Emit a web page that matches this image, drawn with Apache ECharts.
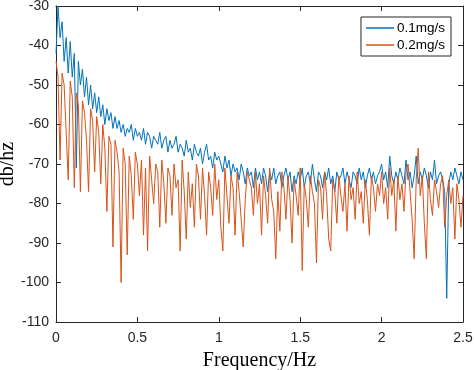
<!DOCTYPE html>
<html>
<head>
<meta charset="utf-8">
<script src="https://cdn.jsdelivr.net/npm/echarts@6/dist/echarts.min.js"></script>
<style>html,body{margin:0;padding:0;background:#fff;}#c{width:474px;height:370px;}</style>
</head>
<body>
<div id="c"></div>
<script>
const seriesNames = ['0.1mg/s', '0.2mg/s'];
const xTicks = [0, 0.5, 1, 1.5, 2, 2.5];
const yTicks = [-110, -100, -90, -80, -70, -60, -50, -40, -30];
const freqStep = 0.0125; // sample spacing of the spectrum, Hz

const blue = [
  -42, -30, -38, -34, -44, -38, -47, -39, -48, -42,
  -71, -44, -50, -46, -53, -48, -55, -50, -56, -52,
  -57, -53, -58, -55, -60, -56, -59, -57, -61, -58,
  -61, -59, -62, -60, -63, -61, -62, -60, -64, -61,
  -63, -62, -64, -61, -65, -62, -63, -66, -63, -64,
  -65, -62, -66, -64, -63, -67, -64, -66, -65, -63,
  -67, -65, -66, -68, -64, -67, -66, -69, -65, -67,
  -68, -66, -70, -67, -65, -69, -68, -71, -67, -69,
  -68, -70, -72, -68, -71, -69, -73, -70, -72, -71,
  -74, -70, -72, -75, -71, -73, -72, -76, -71, -74,
  -72, -75, -71, -73, -77, -72, -74, -71, -75, -73,
  -72, -76, -73, -71, -74, -72, -77, -73, -75, -72,
  -74, -71, -76, -73, -72, -75, -70, -74, -77, -72,
  -73, -76, -72, -74, -71, -75, -73, -77, -72, -74,
  -73, -71, -75, -72, -74, -76, -72, -73, -75, -71,
  -74, -72, -76, -73, -71, -74, -72, -75, -73, -72,
  -70, -74, -72, -76, -68, -73, -75, -72, -74, -71,
  -73, -75, -69, -74, -72, -76, -73, -68, -75, -72,
  -74, -71, -73, -76, -72, -74, -69, -75, -73, -72,
  -74, -77, -104, -75, -72, -74, -71, -73, -75, -72,
  -74
];

const orange = [
  -44, -48, -69, -47, -50, -62, -74, -49, -53, -76,
  -52, -55, -77, -54, -57, -64, -77, -56, -59, -72,
  -58, -62, -75, -60, -66, -82, -63, -65, -91, -64,
  -67, -72, -100, -66, -70, -93, -68, -73, -84, -67,
  -70, -78, -69, -88, -71, -92, -68, -74, -80, -70,
  -72, -86, -69, -75, -85, -71, -73, -83, -70, -76,
  -74, -92, -69, -77, -89, -72, -81, -75, -86, -70,
  -73, -84, -71, -78, -88, -72, -76, -83, -70, -79,
  -74, -86, -92, -71, -78, -85, -73, -76, -88, -72,
  -77, -84, -91, -79, -72, -74, -76, -83, -72, -80,
  -75, -88, -73, -78, -85, -71, -79, -82, -94, -77,
  -87, -72, -76, -84, -73, -79, -90, -74, -78, -83,
  -71, -97, -75, -79, -86, -73, -77, -80, -95, -74,
  -76, -84, -72, -78, -89, -92, -74, -77, -85, -73,
  -78, -82, -75, -87, -73, -79, -76, -84, -72, -80,
  -77, -85, -74, -79, -88, -73, -76, -82, -75, -78,
  -72, -80, -76, -84, -71, -78, -74, -87, -73, -79,
  -75, -82, -72, -70, -77, -84, -94, -74, -66, -78,
  -73, -85, -94, -72, -79, -83, -74, -77, -81, -75,
  -73, -86, -78, -74, -80, -76, -89, -75, -79, -86,
  -78
];

function pairs(vals) {
  return vals.map((v, i) => [+(i * freqStep).toFixed(4), v]);
}

const axisColor = '#262626';
const chart = echarts.init(document.getElementById('c'), null, {renderer: 'canvas'});
const tickCfg = {show: true, inside: true, length: 5, lineStyle: {color: axisColor, width: 1}};
const lineCfg = {show: true, onZero: false, lineStyle: {color: axisColor, width: 1}};

chart.setOption({
  animation: false,
  backgroundColor: '#fff',
  grid: {left: 56, right: 11, top: 6, bottom: 48, containLabel: false, outerBoundsMode: 'none'},
  legend: {
    data: seriesNames.map(n => ({name: n, icon: 'rect'})),
    orient: 'vertical',
    right: 23,
    top: 17,
    backgroundColor: '#fff',
    borderColor: axisColor,
    borderWidth: 1,
    borderRadius: 0,
    padding: [4, 6, 4, 5],
    itemGap: 3,
    itemWidth: 28,
    itemHeight: 1.5,
    textStyle: {fontFamily: 'Liberation Sans', fontSize: 13.5, color: '#000', padding: [0, 0, 0, -2], lineHeight: 14}
  },
  xAxis: [
    {
      type: 'value', min: xTicks[0], max: xTicks[xTicks.length - 1], interval: 0.5,
      axisLine: lineCfg, axisTick: tickCfg, splitLine: {show: false},
      axisLabel: {color: axisColor, fontFamily: 'Liberation Sans', fontSize: 14, margin: 9},
      name: 'Frequency/Hz', nameLocation: 'middle', nameGap: 29,
      nameTextStyle: {fontFamily: 'Liberation Serif', fontSize: 20, color: '#000'}
    },
    {
      type: 'value', position: 'top', min: xTicks[0], max: xTicks[xTicks.length - 1], interval: 0.5,
      axisLine: lineCfg, axisTick: tickCfg, splitLine: {show: false}, axisLabel: {show: false}
    }
  ],
  yAxis: [
    {
      type: 'value', min: yTicks[0], max: yTicks[yTicks.length - 1], interval: 10,
      axisLine: lineCfg, axisTick: tickCfg, splitLine: {show: false},
      axisLabel: {color: axisColor, fontFamily: 'Liberation Sans', fontSize: 14, margin: 7},
      name: 'db/hz', nameLocation: 'middle', nameGap: 38, nameRotate: 90, nameMoveOverlap: false,
      nameTextStyle: {fontFamily: 'Liberation Serif', fontSize: 20, color: '#000'}
    },
    {
      type: 'value', position: 'right', min: yTicks[0], max: yTicks[yTicks.length - 1], interval: 10,
      axisLine: lineCfg, axisTick: tickCfg, splitLine: {show: false}, axisLabel: {show: false}
    }
  ],
  series: [
    {
      name: seriesNames[0], type: 'line', data: pairs(blue), symbol: 'none', showSymbol: false,
      lineStyle: {color: '#0072BD', width: 1}, itemStyle: {color: '#0072BD'}
    },
    {
      name: seriesNames[1], type: 'line', data: pairs(orange), symbol: 'none', showSymbol: false,
      lineStyle: {color: '#D95319', width: 1}, itemStyle: {color: '#D95319'}
    }
  ]
});
</script>
</body>
</html>
